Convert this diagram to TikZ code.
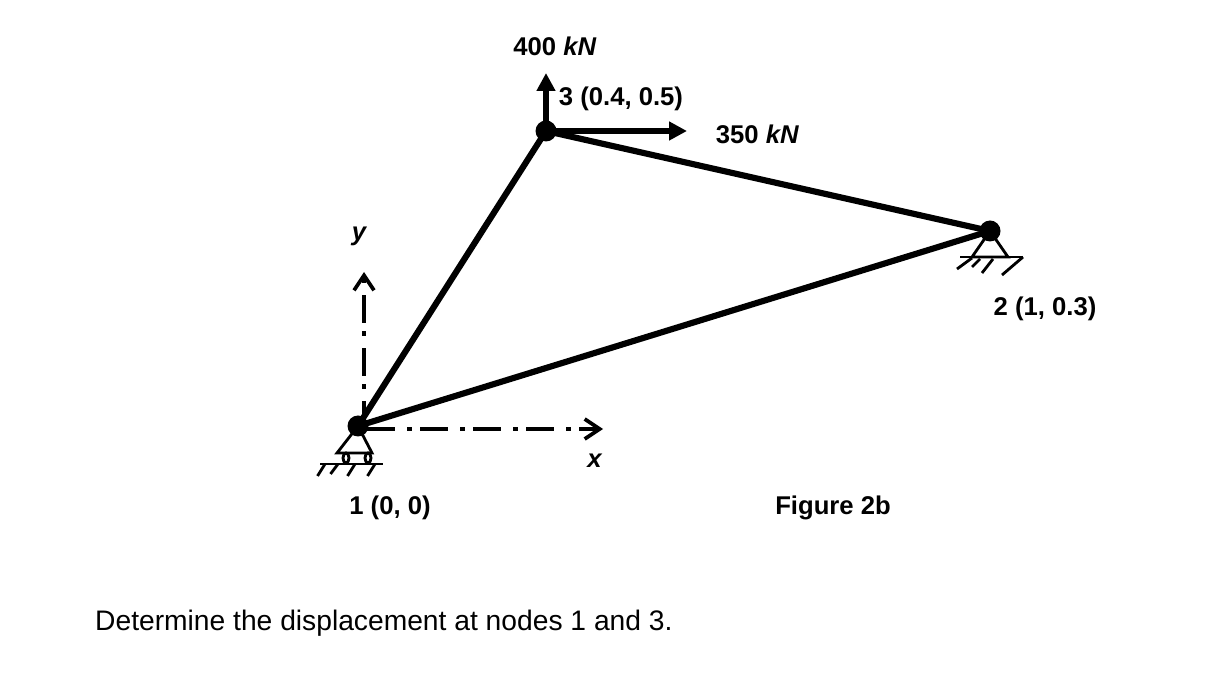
\documentclass[tikz,border=0pt]{standalone}
\usepackage{fontspec}
\setmainfont{Liberation Sans}
\usetikzlibrary{arrows.meta}
\tikzset{
  joint/.style={circle,fill=black,inner sep=0pt,minimum size=0.21cm},
  member/.style={line width=1.75pt},
  load/.style={line width=1.5pt,-{Triangle[length=0.18cm,width=0.18cm]}},
  axis/.style={line width=1.05pt,dash pattern=on 8pt off 3.4pt on 1.3pt off 2.4pt,-{Straight Barb[length=0.15cm,width=0.2cm,line width=1.05pt]}},
  support/.style={line width=0.8pt},
  hatch/.style={line width=0.8pt},
  lbl/.style={inner sep=0pt,font=\fontsize{7.3pt}{9pt}\selectfont\bfseries}
}
\begin{document}
\begin{tikzpicture}
         \useasboundingbox (0, 0) rectangle (12.24, 6.84);
         \coordinate (P) at (5.46, 6.11);
         \coordinate (Q) at (6.87, 5.53);
         \coordinate (XS) at (3.67, 2.55);
         \coordinate (XE) at (6.03, 2.55);
         \coordinate (YS) at (3.64, 2.55);
         \coordinate (YE) at (3.64, 4.12);
         \draw [axis] (XS) -- (XE);
         \draw [axis] (YS) -- (YE);
         \node [joint] (N1) at (3.58, 2.58) {};
         \node [joint] (N2) at (9.90, 4.53) {};
         \node [joint] (N3) at (5.46, 5.53) {};
         \draw [member] (N1.center) -- (N3.center);
         \draw [member] (N1.center) -- (N2.center);
         \draw [member] (N3.center) -- (N2.center);
         \draw [load] (N3.center) -- (P);
         \draw [load] (N3.center) -- (Q);
         % roller support at 1
         \draw [support] (N1.center) -- (3.37, 2.31) -- (3.72, 2.31) -- (N1.center);
         \draw [support] (3.46, 2.26) ellipse (0.03 and 0.05);
         \draw [support] (3.68, 2.26) ellipse (0.03 and 0.05);
         \draw [support] (3.20, 2.20) -- (3.83, 2.20);
         \foreach \hx/\hy in {3.25/-0.12, 3.38/-0.10, 3.55/-0.12, 3.75/-0.12}
           \draw [hatch] (\hx, 2.20) -- ++(-0.075, \hy);
         % pin support at 2
         \draw [support] (N2.center) -- (9.72, 4.27) -- (10.08, 4.27) -- (N2.center);
         \draw [support] (9.60, 4.27) -- (10.23, 4.27);
         \draw [hatch] (9.72, 4.26) -- (9.57, 4.15);
         \draw [hatch] (9.80, 4.25) -- (9.72, 4.17);
         \draw [hatch] (9.93, 4.25) -- (9.82, 4.11);
         \draw [hatch] (10.23, 4.27) -- (10.02, 4.09);
         % labels
         \node [lbl] (F1) at (5.55, 6.38) {400 \textit{kN}};
         \node [lbl] (L3) at (6.21, 5.85) {3 (0.4, 0.5)};
         \node [lbl] (F2) at (7.575, 5.50) {350 \textit{kN}};
         \node [lbl] (LY) at (3.595, 4.48) {\textit{y}};
         \node [lbl] (LX) at (5.95, 2.23) {\textit{x}};
         \node [lbl] (L1) at (3.90, 1.76) {1 (0, 0)};
         \node [lbl] (L2) at (10.45, 3.75) {2 (1, 0.3)};
         \node [lbl] (FG) at (8.33, 1.76) {Figure 2b};
         \node [inner sep=0pt,anchor=west,font=\fontsize{8.03pt}{10pt}\selectfont] (TX) at (0.945, 0.61) {Determine the displacement at nodes 1 and 3.};
\end{tikzpicture}
\end{document}
